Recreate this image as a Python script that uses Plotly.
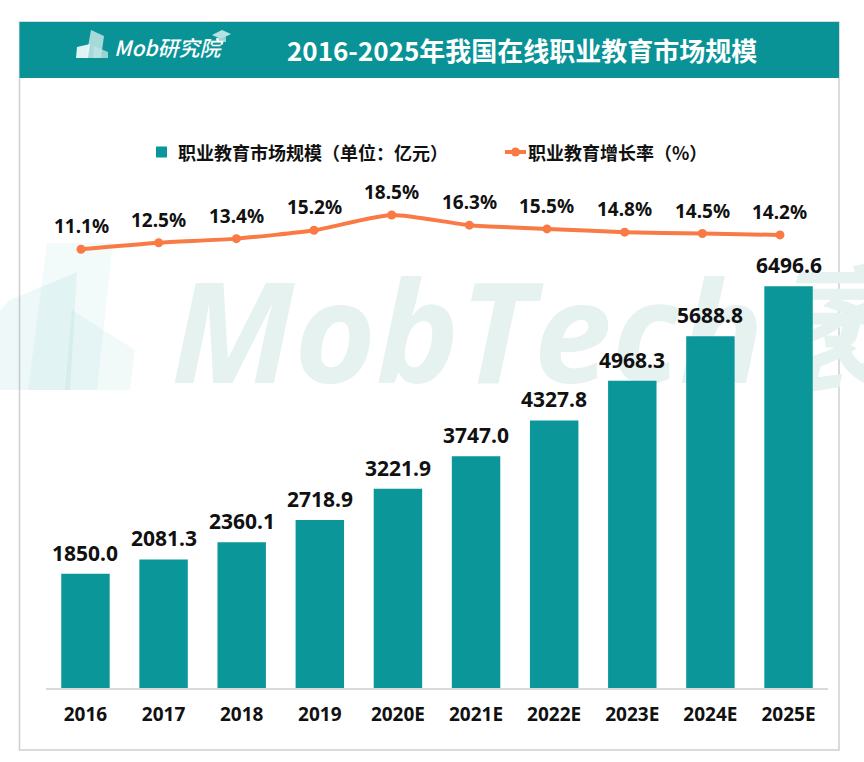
import plotly.graph_objects as go

# ---------------- data ----------------
years = ["2016", "2017", "2018", "2019", "2020E", "2021E", "2022E", "2023E", "2024E", "2025E"]
market = [1850.0, 2081.3, 2360.1, 2718.9, 3221.9, 3747.0, 4327.8, 4968.3, 5688.8, 6496.6]
growth = [11.1, 12.5, 13.4, 15.2, 18.5, 16.3, 15.5, 14.8, 14.5, 14.2]
title_text = "2016-2025年我国在线职业教育市场规模"
legend_bar = "职业教育市场规模（单位：亿元）"
legend_line = "职业教育增长率（%）"
logo_text = "Mob研究院"
watermark = "MobTech袤博"

# ---------------- style ----------------
W, H = 864, 762
TEAL = "#0b969a"
HEADER = "#0a9397"
ORANGE = "#f97a45"
NUM_FONT = "Noto Sans, Noto Sans CJK SC, sans-serif"
CJK_FONT = "Noto Sans CJK SC, Noto Sans, sans-serif"


def px(x):
    return x / W


def py(y):
    return 1 - y / H


def path(points):
    s = "M " + " L ".join(f"{px(x):.5f},{py(y):.5f}" for x, y in points) + " Z"
    return s


fig = go.Figure()

fig.add_trace(go.Bar(
    x=years, y=market, marker=dict(color=TEAL, line=dict(width=0)),
    xaxis="x", yaxis="y", showlegend=False, hoverinfo="skip",
))

fig.add_trace(go.Scatter(
    x=years, y=growth, mode="lines+markers",
    line=dict(color=ORANGE, width=4, shape="spline", smoothing=0.6),
    marker=dict(color=ORANGE, size=9),
    xaxis="x2", yaxis="y2", showlegend=False, hoverinfo="skip",
))

annotations = []
# bar value labels (x given as category index)
for i, v in enumerate(market):
    annotations.append(dict(
        x=i, y=v, xref="x", yref="y", text=f"{v:.1f}", showarrow=False,
        yanchor="bottom", yshift=5,
        font=dict(family=NUM_FONT, size=21, color="#111111", weight="bold"),
    ))
# growth labels
for i, g in enumerate(growth):
    annotations.append(dict(
        x=i, y=g, xref="x2", yref="y2", text=f"{g:.1f}%", showarrow=False,
        yanchor="bottom", yshift=8,
        font=dict(family=NUM_FONT, size=19, color="#111111", weight="bold"),
    ))

# header title and logo text
annotations.append(dict(
    x=px(522), y=py(50), xref="paper", yref="paper", text=title_text, showarrow=False,
    xanchor="center", yanchor="middle",
    font=dict(family=CJK_FONT, size=26, color="white", weight="bold"),
))
annotations.append(dict(
    x=px(112), y=py(47), xref="paper", yref="paper", text=logo_text, showarrow=False,
    xanchor="left", yanchor="middle",
    font=dict(family=CJK_FONT, size=21, color="white", style="italic", weight=500),
))

# legend
annotations.append(dict(
    x=px(176), y=py(152), xref="paper", yref="paper", text=legend_bar, showarrow=False,
    xanchor="left", yanchor="middle",
    font=dict(family=CJK_FONT, size=18, color="#111111", weight="bold"),
))
annotations.append(dict(
    x=px(526), y=py(152), xref="paper", yref="paper", text=legend_line, showarrow=False,
    xanchor="left", yanchor="middle",
    font=dict(family=CJK_FONT, size=18, color="#111111", weight="bold"),
))

shapes = []
# outer frame
shapes.append(dict(type="rect", xref="paper", yref="paper",
                   x0=px(19.5), x1=px(839), y0=py(750), y1=py(22),
                   line=dict(color="#cfcfcf", width=1.5), fillcolor="rgba(0,0,0,0)", layer="below"))
# header band
shapes.append(dict(type="rect", xref="paper", yref="paper",
                   x0=px(19.5), x1=px(839), y0=py(78), y1=py(22),
                   line=dict(width=0), fillcolor=HEADER, layer="below"))
# logo icon (building)
shapes.append(dict(type="path", xref="paper", yref="paper",
                   path=path([(91, 30), (104, 36), (101, 58), (86, 58)]),
                   line=dict(width=0), fillcolor="rgba(220,240,240,0.75)", layer="above"))
shapes.append(dict(type="path", xref="paper", yref="paper",
                   path=path([(77, 47), (90, 44), (88, 58), (76, 58)]),
                   line=dict(width=0), fillcolor="rgba(235,248,248,0.95)", layer="above"))
shapes.append(dict(type="path", xref="paper", yref="paper",
                   path=path([(94, 46), (108, 52), (108, 58), (93, 58)]),
                   line=dict(width=0), fillcolor="rgba(190,228,228,0.8)", layer="above"))
# logo graduation cap
shapes.append(dict(type="path", xref="paper", yref="paper",
                   path=path([(212, 35), (222, 30), (231, 34), (221, 39)]),
                   line=dict(width=0), fillcolor="rgba(200,235,235,0.9)", layer="above"))
shapes.append(dict(type="path", xref="paper", yref="paper",
                   path=path([(216, 38), (226, 37), (226, 42), (217, 42)]),
                   line=dict(width=0), fillcolor="rgba(170,220,220,0.9)", layer="above"))

# watermark building
shapes.append(dict(type="path", xref="paper", yref="paper",
                   path=path([(47, 243), (113, 243), (97, 390), (28, 390)]),
                   line=dict(width=0), fillcolor="rgba(11,150,154,0.05)", layer="below"))
shapes.append(dict(type="path", xref="paper", yref="paper",
                   path=path([(10, 300), (77, 272), (70, 390), (0, 390), (0, 310)]),
                   line=dict(width=0), fillcolor="rgba(11,150,154,0.07)", layer="below"))
shapes.append(dict(type="path", xref="paper", yref="paper",
                   path=path([(72, 310), (135, 350), (130, 390), (65, 390)]),
                   line=dict(width=0), fillcolor="rgba(11,150,154,0.06)", layer="below"))
# watermark text (below traces)
shapes.append(dict(type="rect", xref="paper", yref="paper",
                   x0=px(168), x1=px(1000), y0=py(408), y1=py(268),
                   line=dict(width=0), fillcolor="rgba(0,0,0,0)", layer="below",
                   label=dict(text=watermark, textposition="middle left", padding=0,
                              font=dict(family="Open Sans, Noto Sans CJK SC", size=140,
                                        color="#e6f2f0", style="italic", weight="bold"))))

# legend symbols
shapes.append(dict(type="rect", xref="paper", yref="paper",
                   x0=px(156), x1=px(167), y0=py(157.5), y1=py(146.5),
                   line=dict(width=0), fillcolor=TEAL))
shapes.append(dict(type="line", xref="paper", yref="paper",
                   x0=px(505), x1=px(526), y0=py(152), y1=py(152),
                   line=dict(color=ORANGE, width=4)))
shapes.append(dict(type="circle", xref="paper", yref="paper",
                   x0=px(511), x1=px(520), y0=py(156.5), y1=py(147.5),
                   line=dict(width=0), fillcolor=ORANGE))

# geometry
y_top_px, y_bot_px = 170.0, 688.3
k_bar = 0.0619                     # px per unit (亿元)
bar_max = (y_bot_px - y_top_px) / k_bar
k_line = 4.64                      # px per %
p0_px, p0_val = 249.3, growth[0]
line_lo = p0_val - (y_bot_px - p0_px) / k_line
line_hi = p0_val + (p0_px - y_top_px) / k_line

fig.update_layout(
    width=W, height=H,
    margin=dict(l=0, r=0, t=0, b=0),
    paper_bgcolor="white", plot_bgcolor="rgba(0,0,0,0)",
    bargap=0.38,
    showlegend=False,
    xaxis=dict(domain=[px(46.4), px(827.6)], type="category", range=[-0.5, 9.5],
               showgrid=False, zeroline=False, showline=True, linecolor="#d9d9d9", linewidth=2,
               ticks="", ticklabelstandoff=8,
               tickfont=dict(family=NUM_FONT, size=19, color="#111111", weight="bold"),
               anchor="y", fixedrange=True),
    yaxis=dict(domain=[py(y_bot_px), py(y_top_px)], range=[0, bar_max], visible=False,
               showgrid=False, zeroline=False, anchor="x"),
    xaxis2=dict(domain=[px(42.2), px(818.8)], type="category", range=[-0.5, 9.5],
                visible=False, anchor="y2", showgrid=False, zeroline=False),
    yaxis2=dict(domain=[py(y_bot_px), py(y_top_px)], range=[line_lo, line_hi], visible=False,
                anchor="x2", showgrid=False, zeroline=False),
    annotations=annotations,
    shapes=shapes,
)

fig.write_html("out.html")
